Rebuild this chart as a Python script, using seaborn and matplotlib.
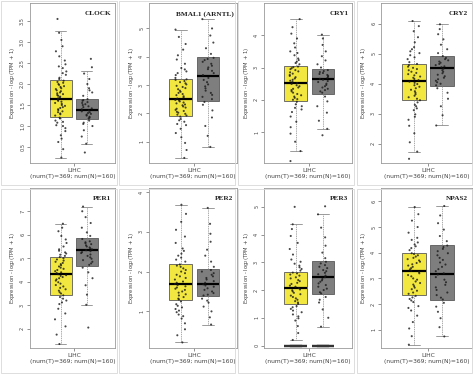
import numpy as np
import pandas as pd
import matplotlib
matplotlib.use("Agg")
import matplotlib.pyplot as plt
import seaborn as sns

sns.set_style("white")
plt.rcParams['font.family'] = ['DejaVu Sans']

# ---------------- data ----------------
genes = ["CLOCK", "BMAL1 (ARNTL)", "CRY1", "CRY2", "PER1", "PER2", "PER3", "NPAS2"]
groups = ["Tumor", "Normal"]
x_label = "LIHC"
n_label = "(num(T)=369; num(N)=160)"

# five-number summaries [low whisker, Q1, median, Q3, high whisker]
clock_box_t = [0.24, 1.22, 1.65, 2.10, 3.27]
clock_box_n = [0.57, 1.16, 1.38, 1.65, 2.32]
bmal1_box_t = [0.42, 1.92, 2.49, 3.21, 4.96]
bmal1_box_n = [0.81, 2.43, 3.30, 3.98, 5.33]
cry1_box_t = [0.41, 1.97, 2.53, 3.04, 4.50]
cry1_box_n = [1.10, 2.19, 2.64, 2.95, 4.02]
cry2_box_t = [1.74, 3.47, 4.09, 4.67, 6.09]
cry2_box_n = [2.61, 3.91, 4.51, 4.94, 5.98]
per1_box_t = [1.35, 3.45, 4.35, 5.07, 6.47]
per1_box_n = [3.02, 4.67, 5.33, 5.86, 7.20]
per2_box_t = [0.22, 1.28, 1.69, 2.19, 3.68]
per2_box_n = [0.67, 1.38, 1.69, 2.07, 3.60]
per3_box_t = [0.20, 1.48, 2.08, 2.64, 4.37]
per3_box_n = [0.68, 1.85, 2.46, 3.05, 4.73]
npas2_box_t = [0.42, 2.37, 3.29, 4.00, 5.78]
npas2_box_n = [0.74, 2.15, 3.19, 4.32, 5.82]

# zero-expression samples drawn as flat boxes (PER3)
per3_zero_t = [0, 0, 0, 0, 0]
per3_zero_n = [0, 0, 0, 0, 0]

# jittered sample points (estimated)
clock_pts_t = [0.25, 0.45, 0.62, 0.78, 0.88, 0.95, 1.02, 1.08, 1.13, 1.18, 1.25, 1.30, 1.35, 1.40,
               1.45, 1.50, 1.55, 1.58, 1.62, 1.68, 1.72, 1.76, 1.80, 1.85, 1.90, 1.95, 2.00, 2.05,
               2.15, 2.22, 2.30, 2.38, 2.47, 2.56, 2.66, 2.78, 2.90, 3.05, 3.22, 3.55,
               1.20, 1.28, 1.33, 1.38, 1.43, 1.48, 1.53, 1.60, 1.66, 1.70, 1.74, 1.78, 1.83,
               1.88, 1.93, 1.98, 2.03, 2.08, 1.10, 1.00, 2.12, 2.26, 2.42, 0.70]
clock_pts_n = [0.37, 0.58, 0.75, 0.90, 1.00, 1.08, 1.13, 1.18, 1.22, 1.27, 1.31, 1.35, 1.40, 1.45,
               1.50, 1.55, 1.60, 1.64, 1.72, 1.80, 1.90, 2.00, 2.12, 2.25, 2.40, 2.60,
               1.20, 1.25, 1.29, 1.33, 1.37, 1.42, 1.47, 1.52, 1.57, 1.62, 1.05, 1.85]
bmal1_pts_t = [0.42, 0.70, 0.95, 1.15, 1.30, 1.45, 1.58, 1.70, 1.80, 1.88, 1.95, 2.05, 2.12, 2.20,
               2.28, 2.35, 2.42, 2.47, 2.52, 2.60, 2.68, 2.76, 2.85, 2.93, 3.02, 3.10, 3.18, 3.25,
               3.35, 3.48, 3.60, 3.75, 3.90, 4.05, 4.25, 4.45, 4.70, 4.96,
               1.98, 2.02, 2.08, 2.16, 2.24, 2.31, 2.38, 2.45, 2.56, 2.64, 2.72, 2.80, 2.89,
               2.97, 3.06, 3.14, 3.20, 1.75, 1.62, 3.42, 3.55, 1.92]
bmal1_pts_n = [0.81, 1.20, 1.55, 1.85, 2.10, 2.30, 2.40, 2.50, 2.65, 2.80, 2.95, 3.10, 3.25, 3.35,
               3.50, 3.62, 3.75, 3.88, 3.96, 4.10, 4.30, 4.50, 4.75, 5.00, 5.33,
               2.58, 2.72, 2.88, 3.02, 3.18, 3.42, 3.56, 3.68, 3.82, 3.92]
cry1_pts_t = [0.10, 0.41, 0.70, 0.95, 1.15, 1.32, 1.48, 1.62, 1.75, 1.86, 1.94, 2.02, 2.10, 2.18,
              2.26, 2.34, 2.42, 2.49, 2.56, 2.62, 2.70, 2.77, 2.85, 2.92, 2.98, 3.03, 3.10, 3.18,
              3.28, 3.38, 3.50, 3.62, 3.75, 3.90, 4.05, 4.25, 4.50,
              2.00, 2.06, 2.14, 2.22, 2.30, 2.38, 2.45, 2.52, 2.59, 2.66, 2.74, 2.81, 2.88,
              2.95, 3.01, 1.80, 1.70, 3.14, 3.23, 3.45]
cry1_pts_n = [0.90, 1.10, 1.35, 1.60, 1.80, 1.95, 2.10, 2.22, 2.30, 2.38, 2.46, 2.55, 2.62, 2.68,
              2.74, 2.80, 2.86, 2.92, 3.00, 3.10, 3.22, 3.35, 3.50, 3.70, 3.90, 4.02,
              2.26, 2.34, 2.42, 2.50, 2.58, 2.65, 2.71, 2.77, 2.83, 2.89]
cry2_pts_t = [1.50, 1.74, 2.05, 2.35, 2.60, 2.80, 2.98, 3.12, 3.25, 3.38, 3.45, 3.55, 3.65, 3.75,
              3.85, 3.95, 4.03, 4.12, 4.20, 4.28, 4.36, 4.45, 4.53, 4.62, 4.72, 4.82, 4.95, 5.08,
              5.22, 5.38, 5.55, 5.75, 5.92, 6.09,
              3.50, 3.60, 3.70, 3.80, 3.90, 3.99, 4.07, 4.16, 4.24, 4.32, 4.40, 4.49, 4.57,
              4.66, 3.30, 3.18, 4.88, 5.02, 5.15, 2.90]
cry2_pts_n = [2.61, 2.95, 3.25, 3.50, 3.70, 3.85, 3.95, 4.05, 4.15, 4.25, 4.35, 4.45, 4.55, 4.62,
              4.70, 4.78, 4.86, 4.92, 5.02, 5.15, 5.30, 5.48, 5.65, 5.82, 5.98,
              4.00, 4.10, 4.20, 4.30, 4.40, 4.50, 4.58, 4.66, 4.74, 4.82]
per1_pts_t = [1.35, 1.75, 2.10, 2.40, 2.65, 2.85, 3.05, 3.20, 3.35, 3.42, 3.55, 3.68, 3.80, 3.92,
              4.05, 4.15, 4.25, 4.32, 4.40, 4.50, 4.60, 4.70, 4.80, 4.90, 5.00, 5.05, 5.15, 5.25,
              5.38, 5.50, 5.65, 5.80, 5.95, 6.15, 6.30, 6.47,
              3.50, 3.62, 3.74, 3.86, 3.98, 4.10, 4.20, 4.28, 4.37, 4.45, 4.55, 4.65, 4.75,
              4.85, 4.95, 3.28, 3.12, 5.10, 5.20, 5.32]
per1_pts_n = [2.05, 3.02, 3.45, 3.85, 4.15, 4.40, 4.60, 4.72, 4.85, 4.98, 5.10, 5.22, 5.30, 5.38,
              5.46, 5.55, 5.64, 5.72, 5.82, 5.95, 6.10, 6.30, 6.50, 6.75, 7.00, 7.20,
              4.78, 4.92, 5.04, 5.16, 5.26, 5.34, 5.42, 5.50, 5.60, 5.68]
per2_pts_t = [0.22, 0.40, 0.55, 0.70, 0.82, 0.92, 1.02, 1.10, 1.18, 1.25, 1.32, 1.40, 1.47, 1.54,
              1.60, 1.66, 1.72, 1.80, 1.88, 1.96, 2.04, 2.12, 2.18, 2.25, 2.35, 2.45, 2.58, 2.72,
              2.88, 3.05, 3.25, 3.45, 3.68,
              1.30, 1.36, 1.43, 1.50, 1.57, 1.63, 1.69, 1.75, 1.84, 1.92, 2.00, 2.08, 2.15,
              1.14, 1.06, 0.98, 2.30, 2.40, 2.52, 0.88]
per2_pts_n = [0.67, 0.85, 1.00, 1.12, 1.22, 1.32, 1.42, 1.50, 1.58, 1.65, 1.72, 1.80, 1.88, 1.96,
              2.04, 2.12, 2.25, 2.40, 2.55, 2.75, 2.95, 3.20, 3.60,
              1.40, 1.46, 1.54, 1.62, 1.68, 1.76, 1.84, 1.92, 2.00, 1.27]
per3_pts_t = [0.20, 0.45, 0.70, 0.90, 1.05, 1.20, 1.32, 1.42, 1.55, 1.65, 1.75, 1.85, 1.95, 2.02,
              2.12, 2.22, 2.32, 2.42, 2.52, 2.60, 2.70, 2.82, 2.95, 3.10, 3.28, 3.48, 3.70, 3.95,
              4.20, 4.37, 5.00,
              1.50, 1.60, 1.70, 1.80, 1.90, 1.99, 2.07, 2.16, 2.26, 2.36, 2.46, 2.56, 2.63,
              1.38, 1.26, 1.12, 2.76, 2.88, 3.02, 0.98]
per3_pts_n = [0.68, 1.00, 1.30, 1.55, 1.75, 1.92, 2.05, 2.18, 2.30, 2.40, 2.52, 2.62, 2.72, 2.84,
              2.96, 3.15, 3.35, 3.60, 3.90, 4.25, 4.73, 5.02,
              1.88, 2.00, 2.12, 2.24, 2.35, 2.46, 2.57, 2.68, 2.79, 2.90, 3.02, 1.65]
npas2_pts_t = [0.42, 0.75, 1.05, 1.30, 1.55, 1.75, 1.92, 2.08, 2.20, 2.32, 2.45, 2.58, 2.70, 2.82,
               2.95, 3.08, 3.20, 3.35, 3.45, 3.55, 3.65, 3.75, 3.85, 3.95, 4.10, 4.25, 4.40, 4.58,
               4.78, 5.00, 5.25, 5.50, 5.78,
               2.40, 2.52, 2.64, 2.76, 2.88, 3.00, 3.13, 3.25, 3.30, 3.40, 3.50, 3.60, 3.70,
               3.80, 3.90, 3.98, 2.26, 2.14, 4.18, 4.32, 4.50, 1.85]
npas2_pts_n = [0.74, 1.10, 1.45, 1.70, 1.90, 2.05, 2.25, 2.45, 2.65, 2.85, 3.05, 3.15, 3.28, 3.45,
               3.62, 3.80, 3.98, 4.15, 4.28, 4.45, 4.65, 4.90, 5.15, 5.45, 5.82,
               2.18, 2.35, 2.55, 2.75, 2.95, 3.20, 3.36, 3.54, 3.72, 3.90, 4.06, 4.22]

# y tick values and labels per panel
clock_ticks = [0.5, 1.0, 1.5, 2.0, 2.5, 3.0, 3.5]
clock_tlabels = ["0.5", "1.0", "1.5", "2.0", "2.5", "3.0", "3.5"]
bmal1_ticks = [1, 2, 3, 4, 5]
cry1_ticks = [1, 2, 3, 4]
cry2_ticks = [2, 3, 4, 5, 6]
per1_ticks = [2, 3, 4, 5, 6, 7]
per2_ticks = [1, 2, 3, 4]
per3_ticks = [0, 1, 2, 3, 4, 5]
npas2_ticks = [1, 2, 3, 4, 5, 6]

# ---------------- styling / layout ----------------
ylims = [(0.12, 3.93), (0.24, 5.9), (0.04, 5.0), (1.36, 6.69),
         (1.18, 7.99), (0.08, 4.1), (-0.09, 5.68), (0.29, 6.52)]
palette = {"Tumor": "#F2E641", "Normal": "#7E7E7E"}

W, H = 474, 375
cols = [(30, 115), (149, 237), (264, 352), (381, 472)]
rows = [(3, 163), (188, 348)]

panels = [
    (clock_box_t, clock_box_n, clock_pts_t, clock_pts_n, clock_ticks, clock_tlabels),
    (bmal1_box_t, bmal1_box_n, bmal1_pts_t, bmal1_pts_n, bmal1_ticks, None),
    (cry1_box_t, cry1_box_n, cry1_pts_t, cry1_pts_n, cry1_ticks, None),
    (cry2_box_t, cry2_box_n, cry2_pts_t, cry2_pts_n, cry2_ticks, None),
    (per1_box_t, per1_box_n, per1_pts_t, per1_pts_n, per1_ticks, None),
    (per2_box_t, per2_box_n, per2_pts_t, per2_pts_n, per2_ticks, None),
    (per3_box_t, per3_box_n, per3_pts_t, per3_pts_n, per3_ticks, None),
    (npas2_box_t, npas2_box_n, npas2_pts_t, npas2_pts_n, npas2_ticks, None),
]

np.random.seed(3)
fig = plt.figure(figsize=(W / 100, H / 100), dpi=100)
fig.patch.set_facecolor("white")

# light panel frames
for r in range(2):
    for c in range(4):
        x0 = c * W / 4 + 1
        y0 = r * H / 2 + 1
        fig.patches.append(plt.Rectangle((x0 / W, 1 - (y0 + H / 2 - 3) / H), (W / 4 - 3) / W,
                                         (H / 2 - 3) / H, transform=fig.transFigure,
                                         fill=False, edgecolor="#d8d8d8", linewidth=0.6))

for i, (bt, bn, pt, pn, ticks, tlabels) in enumerate(panels):
    r, c = divmod(i, 4)
    x0, x1 = cols[c]
    y0, y1 = rows[r]
    ax = fig.add_axes([x0 / W, 1 - y1 / H, (x1 - x0) / W, (y1 - y0) / H])

    box_df = pd.DataFrame({
        "x": [x_label] * (len(bt) + len(bn)),
        "group": ["Tumor"] * len(bt) + ["Normal"] * len(bn),
        "value": bt + bn,
    })
    pts_df = pd.DataFrame({
        "x": [x_label] * (len(pt) + len(pn)),
        "group": ["Tumor"] * len(pt) + ["Normal"] * len(pn),
        "value": pt + pn,
    })

    sns.boxplot(data=box_df, x="x", y="value", hue="group", hue_order=groups,
                palette=palette, saturation=1, width=0.8, gap=0.16, whis=(0, 100),
                linecolor="#5a5a5a", linewidth=0.6, legend=False, ax=ax,
                medianprops={"color": "black", "linewidth": 1.6},
                whiskerprops={"color": "#8a8a8a", "linestyle": (0, (2, 1.2)), "linewidth": 0.5},
                capprops={"color": "#8a8a8a", "linewidth": 0.6})
    if genes[i] == "PER3":
        zero_df = pd.DataFrame({
            "x": [x_label] * (len(per3_zero_t) + len(per3_zero_n)),
            "group": ["Tumor"] * len(per3_zero_t) + ["Normal"] * len(per3_zero_n),
            "value": per3_zero_t + per3_zero_n,
        })
        sns.boxplot(data=zero_df, x="x", y="value", hue="group", hue_order=groups,
                    palette=palette, saturation=1, width=0.8, gap=0.16, whis=(0, 100),
                    linecolor="#444444", linewidth=1.6, legend=False, ax=ax,
                    medianprops={"color": "#333333", "linewidth": 1.6})
    sns.stripplot(data=pts_df, x="x", y="value", hue="group", hue_order=groups,
                  palette={"Tumor": "#1a1a1a", "Normal": "#1a1a1a"}, dodge=True, jitter=0.18,
                  size=1.5, alpha=0.8, linewidth=0, legend=False, ax=ax)

    ax.set_xlim(-0.67, 0.63)
    ax.set_ylim(*ylims[i])
    ax.set_yticks(ticks)
    ax.set_yticklabels(tlabels if tlabels else [str(t) for t in ticks],
                       rotation=90, va="center", fontsize=3.6, color="#444444")
    ax.set_xticks([0])
    ax.set_xticklabels([x_label], fontsize=4.3, color="#444444")
    ax.set_xlabel(n_label, fontsize=4.3, color="#444444", labelpad=0.8)
    ax.set_ylabel(r"Expression - log$_2$(TPM + 1)", fontsize=3.8, color="#444444", labelpad=2)
    ax.tick_params(axis="both", length=2, width=0.5, color="#666666", pad=1.5, left=True, bottom=True)
    for s in ax.spines.values():
        s.set_color("#9a9a9a")
        s.set_linewidth(0.6)
    ax.text(0.96, 0.95, genes[i], transform=ax.transAxes, ha="right", va="top",
            fontsize=5.2, fontweight="bold", family=["Liberation Serif"], color="#222222")

fig.savefig("out.png", dpi=100, facecolor="white")
